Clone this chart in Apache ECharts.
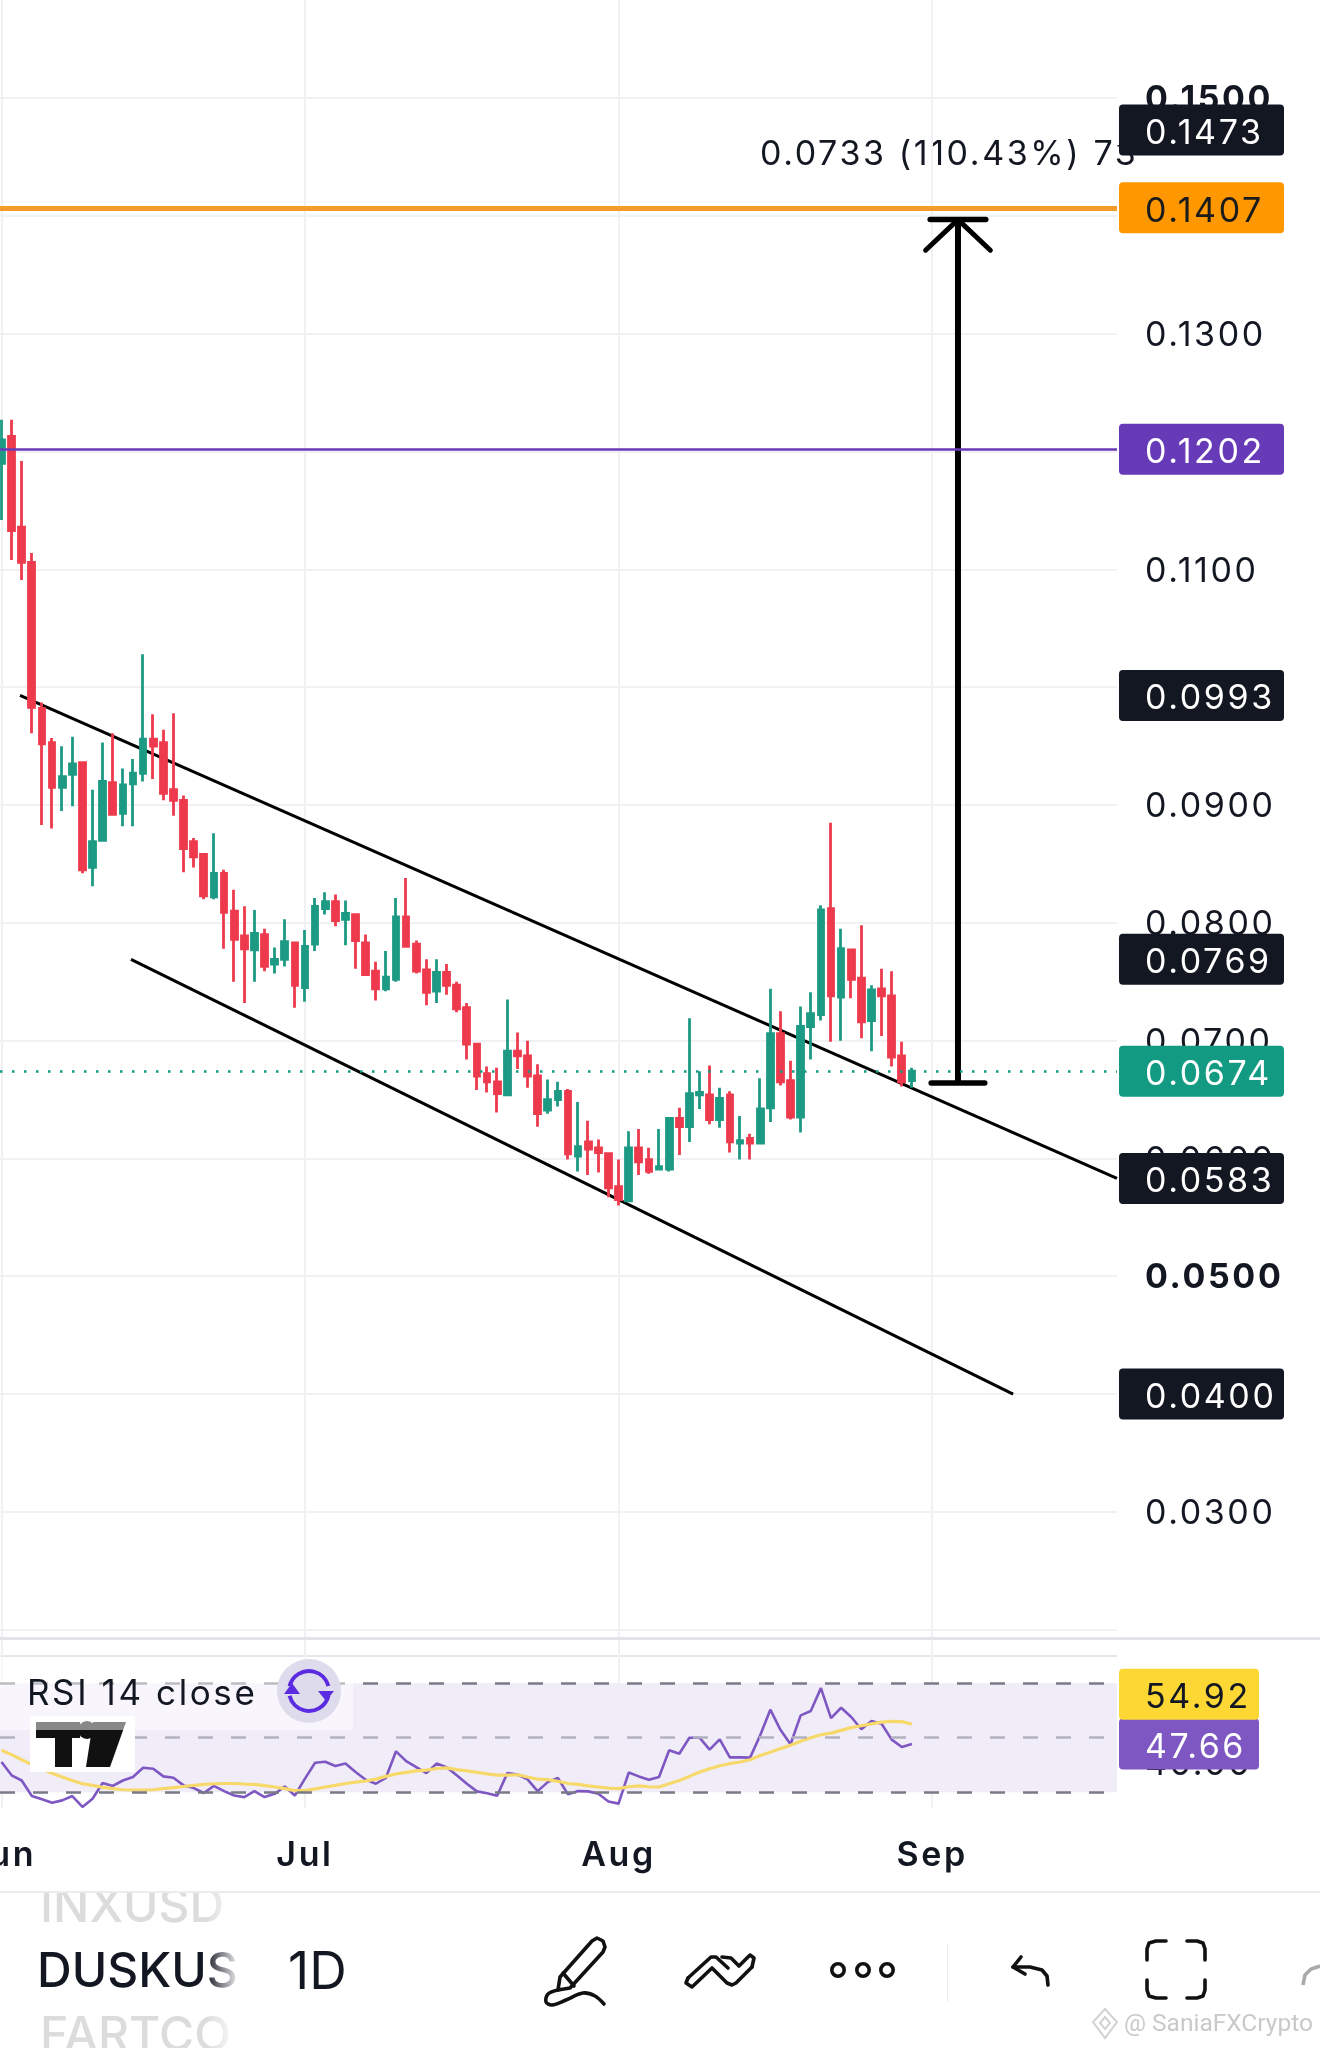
<!DOCTYPE html>
<html><head><meta charset="utf-8">
<style>html,body{margin:0;padding:0;background:#fff}#c{width:1320px;height:2048px}</style>
<script src="https://cdn.jsdelivr.net/npm/echarts@6/dist/echarts.min.js"></script>
</head><body><div id="c"></div>
<script>
// The reference's app font is widely tracked: apply the same tracking to the 34-35px text.
(function(){
  const P = CanvasRenderingContext2D.prototype, ft = P.fillText, mt = P.measureText;
  const track = c => { c.letterSpacing = /(^|\s)3[45]px/.test(c.font) ? '2.6px' : '0px'; };
  P.fillText = function(){ track(this); return ft.apply(this, arguments); };
  P.measureText = function(){ track(this); return mt.apply(this, arguments); };
})();
const opens = [.1190,.1213,.1136,.1106,.0982,.0953,.0915,.0926,.0936,.0847,
.0870,.0919,.0893,.0918,.0927,.0956,.0953,.0913,.0904,.0869,
.0858,.0822,.0842,.0810,.0789,.0777,.0790,.0765,.0769,.0783,
.0745,.0782,.0812,.0818,.0803,.0807,.0783,.0759,.0744,.0752,
.0805,.0782,.0760,.0742,.0758,.0747,.0728,.0697,.0672,.0665,
.0654,.0691,.0687,.0670,.0641,.0650,.0657,.0602,.0614,.0609,
.0604,.0576,.0564,.0609,.0599,.0591,.0591,.0634,.0627,.0654,
.0654,.0633,.0654,.0613,.0617,.0613,.0643,.0706,.0666,.0635,
.0712,.0722,.0812,.0737,.0777,.0753,.0717,.0744,.0738,.0687,.0666];
const closes = [.1210,.1133,.1106,.0983,.0952,.0915,.0924,.0935,.0845,.0869,
.0920,.0892,.0917,.0927,.0956,.0950,.0910,.0904,.0863,.0856,
.0823,.0842,.0809,.0786,.0778,.0791,.0763,.0769,.0784,.0747,
.0780,.0814,.0818,.0802,.0808,.0785,.0756,.0744,.0754,.0805,
.0780,.0759,.0741,.0758,.0747,.0727,.0697,.0670,.0665,.0655,
.0691,.0687,.0670,.0638,.0650,.0657,.0604,.0610,.0608,.0605,
.0575,.0565,.0609,.0597,.0589,.0593,.0634,.0627,.0655,.0656,
.0633,.0651,.0614,.0615,.0613,.0642,.0706,.0665,.0635,.0712,
.0723,.0811,.0738,.0778,.0752,.0716,.0743,.0738,.0686,.0665,.0674];
const lows = [.1142,.1108,.1091,.0961,.0883,.0880,.0895,.0899,.0842,.0831,
.0869,.0891,.0882,.0882,.0920,.0922,.0904,.0891,.0843,.0847,
.0820,.0820,.0778,.0750,.0732,.0750,.0759,.0757,.0763,.0728,
.0733,.0776,.0807,.0797,.0781,.0761,.0755,.0734,.0742,.0750,
.0780,.0757,.0730,.0732,.0739,.0724,.0684,.0658,.0656,.0639,
.0654,.0676,.0660,.0627,.0638,.0644,.0599,.0589,.0586,.0588,
.0567,.0560,.0564,.0586,.0587,.0591,.0589,.0603,.0614,.0642,
.0629,.0626,.0605,.0599,.0599,.0612,.0631,.0662,.0633,.0622,
.0684,.0717,.0699,.0700,.0736,.0702,.0691,.0704,.0678,.0661,.0660];
const highs = [.1227,.1227,.1192,.1114,.0987,.0957,.0950,.0958,.0936,.0913,
.0953,.0961,.0931,.0939,.1028,.0977,.0964,.0978,.0908,.0872,
.0859,.0876,.0845,.0828,.0814,.0811,.0795,.0779,.0803,.0783,
.0794,.0821,.0826,.0824,.0819,.0807,.0790,.0767,.0776,.0821,
.0838,.0785,.0769,.0769,.0765,.0750,.0732,.0697,.0678,.0677,
.0735,.0707,.0700,.0680,.0667,.0665,.0659,.0648,.0632,.0616,
.0605,.0599,.0623,.0625,.0609,.0625,.0634,.0643,.0719,.0674,
.0679,.0660,.0657,.0636,.0621,.0668,.0744,.0725,.0683,.0729,
.0741,.0815,.0885,.0795,.0778,.0798,.0747,.0761,.0759,.0699,.0677];
const rsi = [41.1,36.2,34.3,28.6,27.4,26.1,27.0,28.6,24.6,27.6,33.4,32.3,34.3,35.6,39.0,38.6,35.8,35.3,32.5,31.5,
29.7,32.3,30.4,28.8,28.2,30.4,28.2,29.4,32.1,28.8,35.0,40.8,41.2,39.6,40.5,37.4,34.6,33.1,35.3,45.0,
41.4,39.2,37.0,40.5,39.2,36.2,33.1,30.3,29.6,28.7,37.0,36.5,34.7,30.4,33.7,35.2,29.2,30.4,30.3,29.4,
26.6,25.8,37.2,35.8,34.6,35.6,45.4,44.1,50.0,50.0,45.6,49.4,42.8,42.8,42.7,50.9,60.3,52.9,47.6,58.2,
59.8,68.2,57.2,61.0,57.6,53.1,56.1,55.1,49.3,46.6,47.66];
const rsiMa = [45.4,43.8,41.9,40.1,38.4,37.0,35.6,34.3,33.1,32.5,31.8,31.3,30.9,30.8,30.8,30.9,31.3,31.7,32.1,32.5,
32.9,33.1,33.2,33.2,33.0,32.9,32.4,31.9,31.3,30.6,30.6,31.2,31.9,32.5,33.2,33.7,34.1,34.8,35.8,36.7,
37.3,37.8,38.1,38.7,38.9,38.3,37.8,37.3,36.7,36.3,36.3,36.4,35.6,34.8,34.6,34.0,33.2,32.9,32.3,31.9,
31.5,31.3,32.0,32.3,32.0,31.9,33.1,34.3,35.8,37.4,38.6,39.7,40.5,41.1,41.9,43.5,44.7,46.0,47.2,48.7,
50.0,51.1,51.7,52.7,53.7,54.4,55.1,55.7,56.0,55.9,54.92];
// x is the day number counted from 1 Jun
const monthTicks = [0,30,61,92];
const monthNames = ['Jun','Jul','Aug','Sep'];
const priceTicks = [.02,.03,.04,.05,.06,.07,.08,.09,.10,.11,.12,.13,.14,.15];
const priceLabels = [.03,.04,.05,.06,.07,.08,.09,.10,.11,.12,.13,.14,.15];
const boldPrices = ['0.1500','0.0500'];
const boxValues = [.1473,.1407,.1202,.0993,.0769,.0674,.0583,.0400];
const boxColors = ['#131722','#ff9800','#673ab7','#131722','#131722','#129b82','#131722','#131722'];
const boxText   = ['#fff','#1b1b1b','#fff','#fff','#fff','#fff','#fff','#fff'];
const upperTrend = [[1.83,.0993],[110.27,.0583]];
const lowerTrend = [[12.8,.0769],[100.0,.0400]];
const arrowDay = 94.55, arrowFrom = .0664, arrowTo = .1397, arrowWing = .1371;
const measureText = '0.0733 (110.43%) 73';

const FONT = 'Inter';
const xMin = -0.148, xMax = 110.27;
const candleData = opens.map((o,i)=>[i,o,closes[i],lows[i],highs[i]]);
const noLine = {color:'rgba(0,0,0,0)',width:0};
const boxLabel = (txt,bg,fg,w,extra)=>Object.assign({show:true,position:'end',distance:2,formatter:'{t|'+txt+'}',
    backgroundColor:bg,width:w,height:51,padding:[0,0,0,26],borderRadius:4,align:'left',verticalAlign:'middle',
    rich:{t:{color:fg,fontFamily:FONT,fontSize:34,lineHeight:51,padding:[7,0,0,0]}}},extra||{});

function priceLine(i){
  const v = boxValues[i];
  let line = noLine;
  if (v===.1407) line = {color:'#f39c2b',width:5,type:'solid'};
  if (v===.1202) line = {color:'#673ab7',width:2.5,type:'solid'};
  if (v===.0674) line = {color:'#129b82',width:2.5,type:[2.5,9.5]};
  return {yAxis:v,lineStyle:line,label:boxLabel(v.toFixed(4),boxColors[i],boxText[i],139)};
}
const xCommon = {type:'value',min:xMin,max:xMax,axisLine:{show:false},
  axisTick:{show:false,customValues:monthTicks},
  splitLine:{show:true,lineStyle:{color:'#f1f1f3',width:2}}};
const ink = {stroke:'#111',lineWidth:3.6,fill:null,lineJoin:'round',lineCap:'round'};
const pl = (points,style,smooth)=>({type:'polyline',z:8,shape:{points,smooth:smooth||0},style:style||ink});

const option = {
  animation:false, backgroundColor:'#fff',
  grid:[{left:0,top:0,width:1117,height:1638,outerBoundsMode:'none'},{left:0,top:1638,width:1117,height:170,outerBoundsMode:'none'}],
  xAxis:[
    Object.assign({gridIndex:0,axisLabel:{show:false,customValues:monthTicks}},xCommon),
    Object.assign({gridIndex:1,axisLabel:{show:true,customValues:monthTicks,margin:29,fontFamily:FONT,fontSize:34,fontWeight:600,color:'#131722',
      formatter:v=>monthNames[monthTicks.indexOf(v)]}},xCommon)
  ],
  yAxis:[
    {gridIndex:0,type:'value',position:'right',min:.01929,max:.15834,axisLine:{show:false},
     axisTick:{show:false,customValues:priceTicks},
     splitLine:{show:true,lineStyle:{color:'#f1f1f3',width:2}},
     axisLabel:{customValues:priceLabels,margin:28,align:'left',padding:[4,0,0,0],fontFamily:FONT,fontSize:34,color:'#131722',
       formatter:v=>{const s=v.toFixed(4);return boldPrices.includes(s)?'{b|'+s+'}':s;},
       rich:{b:{fontFamily:FONT,fontSize:34,fontWeight:700,color:'#131722'}}}},
    {gridIndex:1,type:'value',position:'right',min:24.2,max:86.6,axisLine:{show:false},
     axisTick:{show:false,customValues:[40,80]},
     splitLine:{show:true,lineStyle:{color:'#e6e4ec',width:2}},
     axisLabel:{customValues:[40],margin:28,align:'left',padding:[4,0,0,0],fontFamily:FONT,fontSize:34,color:'#131722',formatter:v=>v.toFixed(2)}}
  ],
  series:[
    {name:'levels',type:'line',xAxisIndex:0,yAxisIndex:0,z:1,data:[],silent:true,
     markLine:{silent:true,symbol:'none',animation:false,precision:5,data:boxValues.map((v,i)=>priceLine(i))}},
    {name:'upper channel',type:'line',xAxisIndex:0,yAxisIndex:0,z:2,symbol:'none',silent:true,
     data:upperTrend,lineStyle:{color:'#000',width:3}},
    {name:'lower channel',type:'line',xAxisIndex:0,yAxisIndex:0,z:2,symbol:'none',silent:true,
     data:lowerTrend,lineStyle:{color:'#000',width:3}},
    {name:'price',type:'candlestick',xAxisIndex:0,yAxisIndex:0,z:3,barWidth:6.2,data:candleData,silent:true,
     encode:{x:0,y:[1,2,3,4]},
     itemStyle:{color:'#1d9a83',color0:'#ee3a4d',borderColor:'#1d9a83',borderColor0:'#ee3a4d',borderWidth:2.8}},
    {name:'arrow shaft',type:'line',xAxisIndex:0,yAxisIndex:0,z:4,symbol:'none',silent:true,
     data:[[arrowDay,arrowFrom],[arrowDay,arrowTo]],lineStyle:{color:'#000',width:6}},
    {name:'arrow base',type:'line',xAxisIndex:0,yAxisIndex:0,z:4,symbol:'none',silent:true,
     data:[[arrowDay-2.65,arrowFrom],[arrowDay+2.65,arrowFrom]],lineStyle:{color:'#000',width:5.5,cap:'round'}},
    {name:'arrow top',type:'line',xAxisIndex:0,yAxisIndex:0,z:4,symbol:'none',silent:true,
     data:[[arrowDay-2.75,arrowTo],[arrowDay+2.75,arrowTo]],lineStyle:{color:'#000',width:5.5,cap:'round'}},
    {name:'arrow head',type:'line',xAxisIndex:0,yAxisIndex:0,z:4,symbol:'none',silent:true,
     data:[[arrowDay-3.2,arrowWing],[arrowDay,arrowTo],[arrowDay+3.2,arrowWing]],lineStyle:{color:'#000',width:5,cap:'round'}},
    {name:'RSI',type:'line',xAxisIndex:1,yAxisIndex:1,z:3,symbol:'none',silent:true,
     data:rsi.map((v,i)=>[i,v]),lineStyle:{color:'#7e57c2',width:2.6},
     markArea:{silent:true,itemStyle:{color:'#f0edf8'},data:[[{yAxis:30},{yAxis:70}]]},
     markLine:{silent:true,symbol:'none',animation:false,precision:3,data:[
       {yAxis:70,lineStyle:{color:'#787b86',width:2.5,type:[15,18]},label:{show:false}},
       {yAxis:50,lineStyle:{color:'#b4b1c0',width:2.5,type:[15,18]},label:{show:false}},
       {yAxis:30,lineStyle:{color:'#787b86',width:2.5,type:[15,18]},label:{show:false}},
       {yAxis:47.66,lineStyle:noLine,label:boxLabel('47.66','#7e57c2','#fff',114)},
       {yAxis:54.92,lineStyle:noLine,label:boxLabel('54.92','#fdd835','#131722',114,{offset:[0,-30]})}
     ]}},
    {name:'RSI MA',type:'line',xAxisIndex:1,yAxisIndex:1,z:3,symbol:'none',silent:true,
     data:rsiMa.map((v,i)=>[i,v]),lineStyle:{color:'#f7d96b',width:3.2}}
  ],
  graphic:[
    {type:'text',z:0,x:760,y:155,style:{text:measureText,fontFamily:FONT,fontSize:34,fill:'#131722',verticalAlign:'middle'}},
    {type:'rect',z:1,shape:{x:1117,y:115,width:40,height:30},style:{fill:'#fff'}},
    {type:'rect',z:5,shape:{x:0,y:1637,width:1320,height:3},style:{fill:'#e3e4e8'}},
    {type:'rect',z:20,shape:{x:30,y:1716,width:105,height:56},style:{fill:'#fff'}},
    {type:'polygon',z:21,shape:{points:[[36,1722],[80,1722],[80,1738],[72,1738],[72,1767],[55,1767],[55,1738],[36,1738]]},style:{fill:'#111'}},
    {type:'circle',z:21,shape:{cx:87,cy:1730,r:9},style:{fill:'#111'}},
    {type:'polygon',z:21,shape:{points:[[93,1722],[126,1722],[110,1767],[86,1767]]},style:{fill:'#111'}},
    {type:'rect',z:22,shape:{x:0,y:1657,width:353,height:73},style:{fill:'rgba(255,255,255,0.5)'}},
    {type:'text',z:23,x:27,y:1694.5,style:{text:'RSI 14 close',fontFamily:FONT,fontSize:35,fill:'#131722',verticalAlign:'middle'}},
    {type:'circle',z:23,shape:{cx:309,cy:1691,r:32},style:{fill:'#dedbec'}},
    {type:'arc',z:24,shape:{cx:309,cy:1691,r:20,startAngle:-2.9,endAngle:-0.25,clockwise:true},style:{stroke:'#5a2be0',lineWidth:4,fill:null}},
    {type:'arc',z:24,shape:{cx:309,cy:1691,r:20,startAngle:0.24,endAngle:2.9,clockwise:true},style:{stroke:'#5a2be0',lineWidth:4,fill:null}},
    {type:'polygon',z:24,shape:{points:[[318,1691],[334,1691],[326,1701]]},style:{fill:'#5a2be0'}},
    {type:'polygon',z:24,shape:{points:[[284,1694],[300,1694],[292,1683]]},style:{fill:'#5a2be0'}},
    {type:'rect',z:5,shape:{x:0,y:1892,width:1320,height:156},style:{fill:'#fff'}},
    {type:'text',z:6,x:40,y:1908,style:{text:'INXUSD',fontFamily:FONT,fontSize:48,fontWeight:500,fill:'#dcdcdc',verticalAlign:'middle'}},
    {type:'rect',z:7,shape:{x:0,y:1880,width:1320,height:13},style:{fill:'#fff'}},
    {type:'rect',z:8,shape:{x:0,y:1891,width:1320,height:2},style:{fill:'#ececee'}},
    {type:'text',z:6,x:37,y:1973,style:{text:'DUSKUS',fontFamily:FONT,fontSize:48,fontWeight:500,fill:'#131722',verticalAlign:'middle'}},
    {type:'text',z:6,x:40,y:2037,style:{text:'FARTCO',fontFamily:FONT,fontSize:48,fontWeight:500,fill:'#dcdcdc',verticalAlign:'middle'}},
    {type:'rect',z:7,shape:{x:205,y:1893,width:36,height:155},style:{fill:new echarts.graphic.LinearGradient(0,0,1,0,[{offset:0,color:'rgba(255,255,255,0)'},{offset:1,color:'#fff'}])}},
    {type:'text',z:8,x:288,y:1973,style:{text:'1D',fontFamily:FONT,fontSize:52,fontWeight:400,fill:'#131722',verticalAlign:'middle'}},
    {type:'polygon',z:8,shape:{points:[[560,1977],[592,1941],[597,1938],[603,1941],[605,1947],[603,1952],[570,1988],[558,1990]]},style:ink},
    pl([[563,1973],[574,1986]]),
    pl([[558,1990],[548,1994],[546,2002],[552,2005],[566,2000],[583,1993],[595,1996],[604,2004]],null,0.35),
    pl([[688,1978],[711,1957],[716,1957],[728,1968]]),
    pl([[688,1978],[686,1983],[692,1987],[712,1968],[727,1983],[732,1985],[736,1983],[752,1967]]),
    pl([[722,1957],[731,1958],[739,1966],[750,1955],[754,1958],[752,1967]]),
    {type:'circle',z:8,shape:{cx:838,cy:1970,r:6.2},style:{stroke:'#111',lineWidth:3.6,fill:'#fff'}},
    {type:'circle',z:8,shape:{cx:863,cy:1970,r:6.2},style:{stroke:'#111',lineWidth:3.6,fill:'#fff'}},
    {type:'circle',z:8,shape:{cx:887,cy:1970,r:6.2},style:{stroke:'#111',lineWidth:3.6,fill:'#fff'}},
    {type:'rect',z:8,shape:{x:947,y:1944,width:1,height:58},style:{fill:'#ececee'}},
    pl([[1021,1957],[1013,1967],[1025,1974]]),
    pl([[1013,1967],[1030,1967],[1042,1970],[1047,1976],[1048,1985]]),
    pl([[1147,1960],[1147,1949],[1149,1943],[1156,1941],[1166,1941]]),
    pl([[1187,1941],[1197,1941],[1203,1943],[1205,1949],[1205,1960]]),
    pl([[1205,1980],[1205,1990],[1203,1996],[1197,1998],[1187,1998]]),
    pl([[1166,1998],[1156,1998],[1149,1996],[1147,1990],[1147,1980]]),
    pl([[1303,1985],[1305,1975],[1311,1969],[1320,1966]],{stroke:'#aaa',lineWidth:3.6,fill:null}),
    {type:'polygon',z:9,shape:{points:[[1105,2009],[1117,2022],[1105,2038],[1093,2022]]},style:{stroke:'#d2d2d2',lineWidth:2,fill:null}},
    {type:'polygon',z:9,shape:{points:[[1105,2017],[1110,2023],[1105,2029],[1100,2023]]},style:{stroke:'#d2d2d2',lineWidth:2,fill:null}},
    {type:'text',z:9,x:1124,y:2025,style:{text:'@ SaniaFXCrypto',fontFamily:'Roboto',fontSize:24.5,fill:'#c9c9c9',verticalAlign:'middle'}}
  ]
};
const chart = echarts.init(document.getElementById('c'),null,{renderer:'canvas'});
chart.setOption(option);
</script></body></html>
